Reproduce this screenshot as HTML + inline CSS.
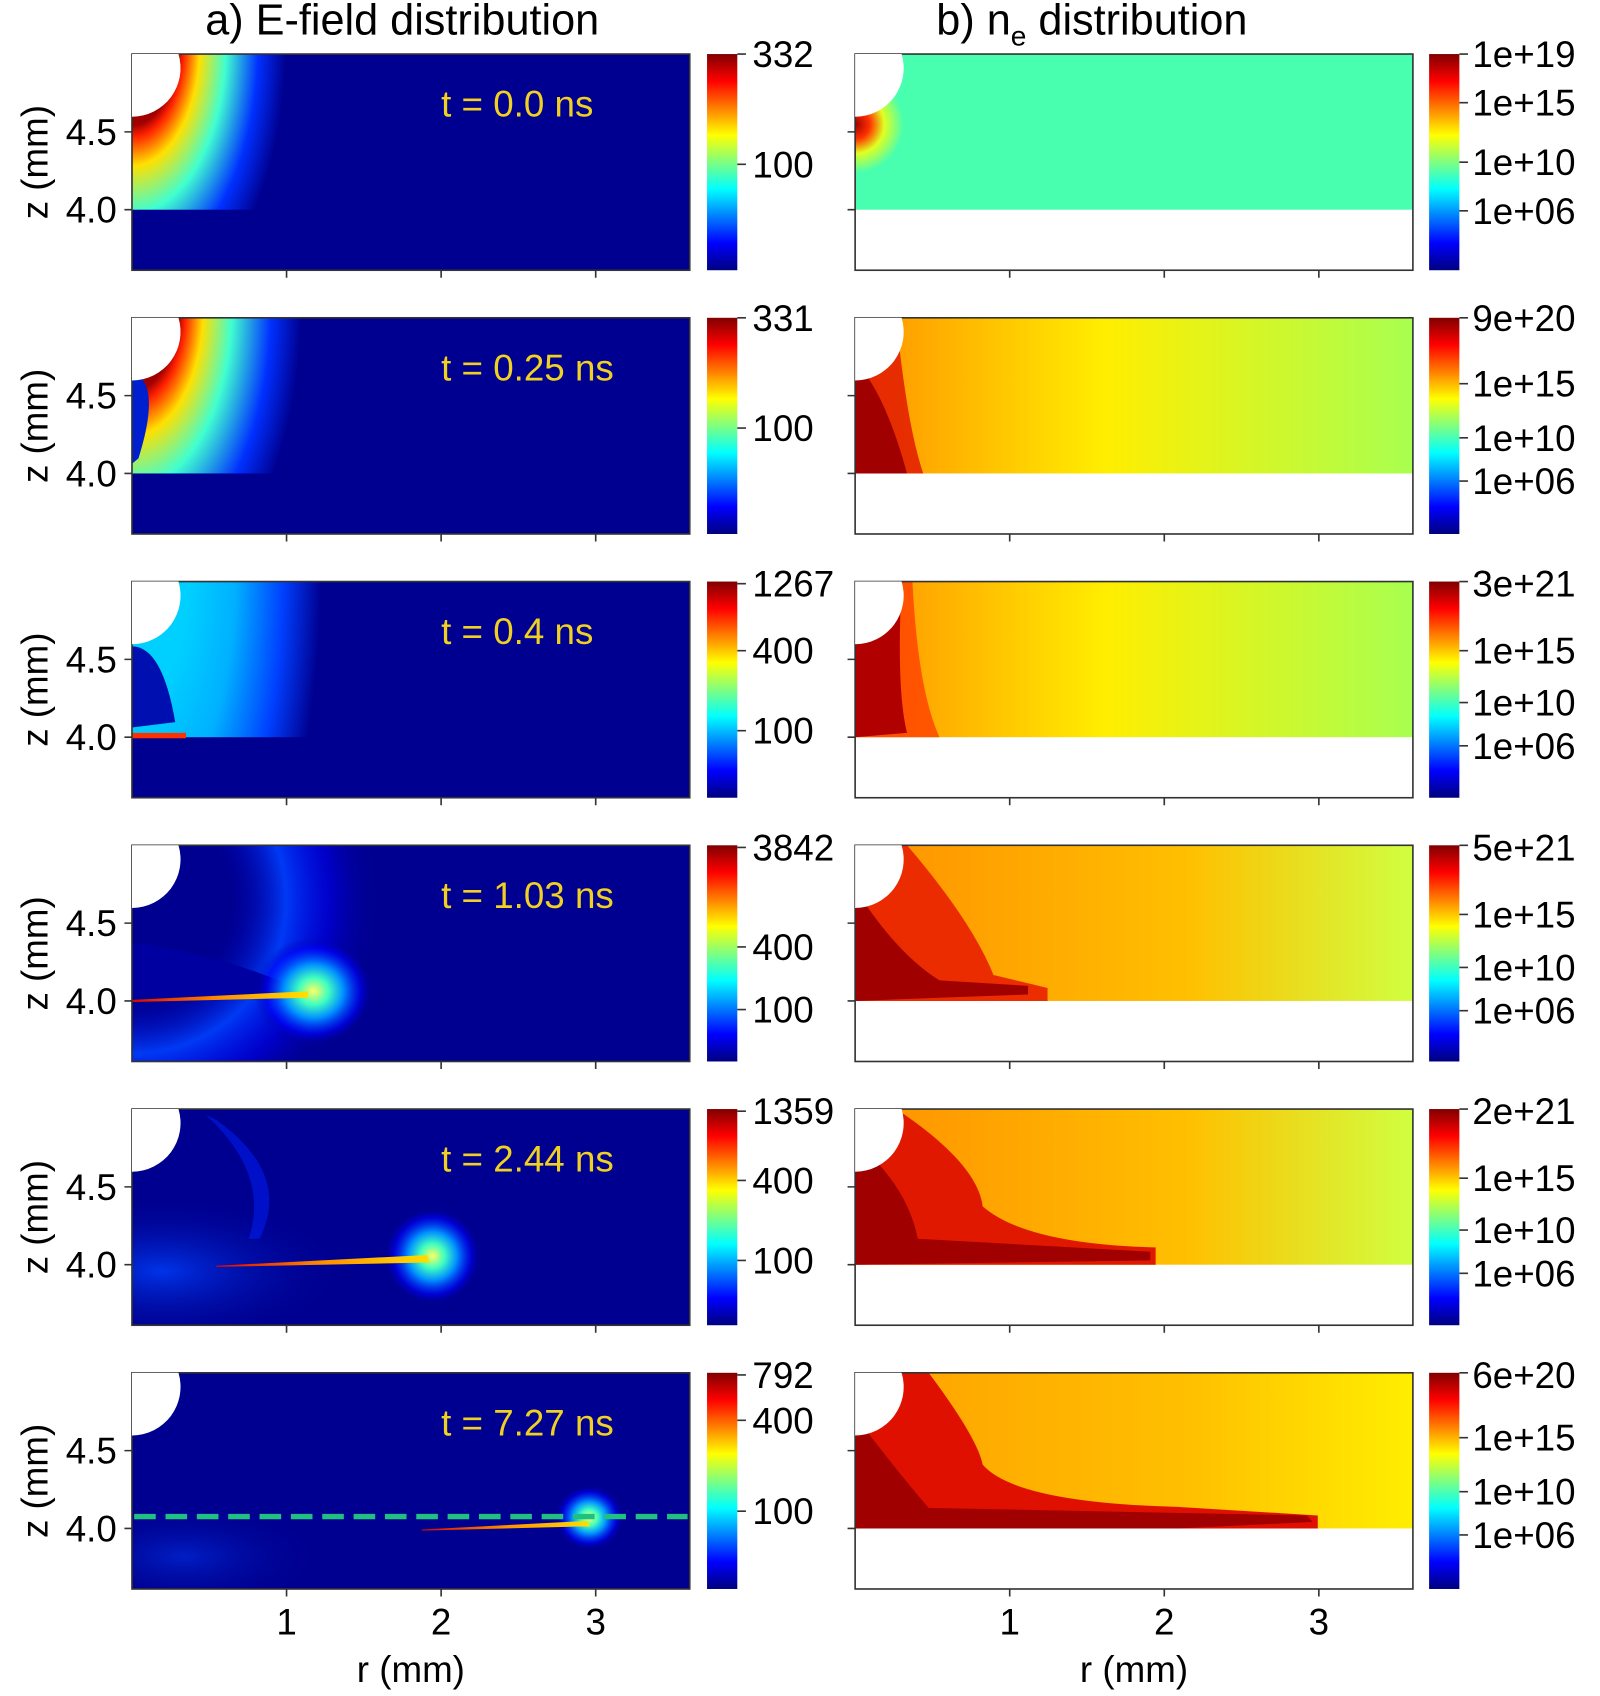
<!DOCTYPE html>
<html><head><meta charset="utf-8"><style>
html,body{margin:0;padding:0;background:#fff;width:1600px;height:1696px;overflow:hidden}
svg text{font-family:"Liberation Sans Narrow","Liberation Sans",sans-serif}
</style></head><body>
<svg width="1600" height="1696" viewBox="0 0 1480 1569" xmlns="http://www.w3.org/2000/svg">
<defs>
<clipPath id="pc"><rect x="122" y="50" width="516" height="200"/></clipPath>
<linearGradient id="jet" x1="0" y1="1" x2="0" y2="0">
<stop offset="0" stop-color="#000080"/><stop offset="0.125" stop-color="#0000ff"/><stop offset="0.375" stop-color="#00ffff"/><stop offset="0.625" stop-color="#ffff00"/><stop offset="0.875" stop-color="#ff0000"/><stop offset="1" stop-color="#800000"/>
</linearGradient>
<radialGradient id="e0" gradientUnits="userSpaceOnUse" cx="122" cy="40" r="150" gradientTransform="translate(122,40) scale(1,1.8) translate(-122,-40)">
<stop offset="0.28" stop-color="#a00000"/><stop offset="0.32" stop-color="#ff2000"/><stop offset="0.42" stop-color="#ffe000"/><stop offset="0.58" stop-color="#40ffd0"/><stop offset="0.78" stop-color="#0030ff"/><stop offset="0.95" stop-color="#000090"/>
</radialGradient>
<radialGradient id="e1" gradientUnits="userSpaceOnUse" cx="122" cy="40" r="165" gradientTransform="translate(122,40) scale(1,1.8) translate(-122,-40)">
<stop offset="0.26" stop-color="#a00000"/><stop offset="0.3" stop-color="#ff2000"/><stop offset="0.4" stop-color="#ffe000"/><stop offset="0.56" stop-color="#40ffd0"/><stop offset="0.78" stop-color="#0030ff"/><stop offset="0.95" stop-color="#000090"/>
</radialGradient>
<radialGradient id="e2" gradientUnits="userSpaceOnUse" cx="122" cy="40" r="175" gradientTransform="translate(122,40) scale(1,2.4) translate(-122,-40)">
<stop offset="0.3" stop-color="#00d0ff"/><stop offset="0.55" stop-color="#00b0ff"/><stop offset="0.8" stop-color="#0040ff"/><stop offset="1" stop-color="#000090"/>
</radialGradient>
<radialGradient id="halo" gradientUnits="userSpaceOnUse" cx="122" cy="100" r="230">
<stop offset="0.4" stop-color="#0000c0" stop-opacity="0"/><stop offset="0.62" stop-color="#0040ff" stop-opacity="0.9"/><stop offset="0.8" stop-color="#0000ff" stop-opacity="0.5"/><stop offset="1" stop-color="#000090" stop-opacity="0"/>
</radialGradient>
<radialGradient id="low"><stop offset="0" stop-color="#0040ff" stop-opacity="0.8"/><stop offset="1" stop-color="#000090" stop-opacity="0"/></radialGradient>
<radialGradient id="blob">
<stop offset="0" stop-color="#ffff60"/><stop offset="0.25" stop-color="#40ffc0"/><stop offset="0.5" stop-color="#0090ff"/><stop offset="0.8" stop-color="#0000ff" stop-opacity="0.6"/><stop offset="1" stop-color="#000090" stop-opacity="0"/>
</radialGradient>
<linearGradient id="streak" x1="0" x2="1" y1="0" y2="0">
<stop offset="0" stop-color="#e00000"/><stop offset="0.5" stop-color="#ff9000"/><stop offset="1" stop-color="#ffe000"/>
</linearGradient>
<linearGradient id="n1" x1="0" x2="1"><stop offset="0" stop-color="#ff9000"/><stop offset="0.45" stop-color="#ffee00"/><stop offset="1" stop-color="#a8ff50"/></linearGradient>
<linearGradient id="n4" x1="0" x2="1"><stop offset="0" stop-color="#ff9000"/><stop offset="0.6" stop-color="#ffc000"/><stop offset="1" stop-color="#d0ff40"/></linearGradient>
<linearGradient id="n5" x1="0" x2="1"><stop offset="0" stop-color="#ffa000"/><stop offset="0.6" stop-color="#ffc000"/><stop offset="1" stop-color="#ffee00"/></linearGradient>
<radialGradient id="n0" gradientUnits="userSpaceOnUse" cx="122" cy="115" r="45">
<stop offset="0" stop-color="#a00000"/><stop offset="0.3" stop-color="#ff3000"/><stop offset="0.6" stop-color="#e0ff20"/><stop offset="1" stop-color="#48ffb0"/>
</radialGradient>
</defs>

<text x="372" y="32" font-size="40" text-anchor="middle">a) E-field distribution</text>
<text x="1010" y="32" font-size="40" text-anchor="middle">b) n<tspan font-size="26" dy="10">e</tspan><tspan dy="-10"> distribution</tspan></text>

<g clip-path="url(#pc)">
<rect x="122" y="50" width="516" height="200" fill="#000090"/>
<rect x="122" y="50" width="150" height="144" fill="url(#e0)"/>
</g>
<g transform="translate(0,244)"><g clip-path="url(#pc)">
<rect x="122" y="50" width="516" height="200" fill="#000090"/>
<rect x="122" y="50" width="165" height="144" fill="url(#e1)"/>
<path d="M122,100 Q150,110 128,180 L122,185 Z" fill="#0020d0"/>
</g></g>
<g transform="translate(0,488)"><g clip-path="url(#pc)">
<rect x="122" y="50" width="516" height="200" fill="#000090"/>
<rect x="122" y="50" width="175" height="144" fill="url(#e2)"/>
<path d="M122,110 Q150,110 162,180 L122,185 Z" fill="#0010b0"/>
<rect x="122" y="190" width="50" height="5" fill="#ff3000"/>
</g></g>
<g transform="translate(0,732)"><g clip-path="url(#pc)">
<rect x="122" y="50" width="516" height="200" fill="#000090"/>
<rect x="122" y="50" width="260" height="200" fill="url(#halo)"/>
<path d="M122,140 Q200,150 270,180 L280,190 L122,190 Z" fill="#0000a0"/>
<ellipse cx="290" cy="185" rx="55" ry="50" fill="url(#blob)"/>
<path d="M122,193 L285,185 L285,191 L122,195 Z" fill="url(#streak)"/>
</g></g>
<g transform="translate(0,976)"><g clip-path="url(#pc)">
<rect x="122" y="50" width="516" height="200" fill="#000090"/>
<ellipse cx="150" cy="200" rx="170" ry="70" fill="url(#low)"/>
<path d="M200,60 Q270,110 240,170 L230,170 Q250,110 190,55 Z" fill="#0020ff" opacity="0.5"/>
<ellipse cx="400" cy="186" rx="45" ry="45" fill="url(#blob)"/>
<path d="M200,195 L395,185 L398,192 L200,196 Z" fill="url(#streak)"/>
</g></g>
<g transform="translate(0,1220)"><g clip-path="url(#pc)">
<rect x="122" y="50" width="516" height="200" fill="#000090"/>
<ellipse cx="170" cy="220" rx="130" ry="50" fill="url(#low)" opacity="0.6"/>
<ellipse cx="545" cy="184" rx="32" ry="30" fill="url(#blob)"/>
<path d="M390,195 L543,187 L546,192 L390,196 Z" fill="url(#streak)"/>
<line x1="124" y1="183" x2="636" y2="183" stroke="#20c080" stroke-width="5" stroke-dasharray="20,9"/>
</g></g>

<g transform="translate(669,0)">
<rect x="122" y="50" width="516" height="144" fill="#48ffb0"/>
<rect x="122" y="60" width="50" height="110" fill="url(#n0)"/>
</g>
<g transform="translate(669,244)">
<rect x="122" y="50" width="516" height="144" fill="url(#n1)"/>
<path d="M122,50 L160,50 Q170,150 185,194 L122,194 Z" fill="#e01000" opacity="0.8"/>
<path d="M122,90 Q150,120 170,194 L122,194 Z" fill="#a00000"/>
</g>
<g transform="translate(669,488)">
<rect x="122" y="50" width="516" height="144" fill="url(#n1)"/>
<path d="M122,50 L175,50 Q180,150 200,194 L122,194 Z" fill="#ff3000" opacity="0.7"/>
<path d="M122,50 L165,50 Q160,150 170,190 L122,194 Z" fill="#b00000"/>
</g>
<g transform="translate(669,732)">
<rect x="122" y="50" width="516" height="144" fill="url(#n4)"/>
<path d="M122,50 L170,50 Q230,120 250,170 L300,182 L300,194 L122,194 Z" fill="#e81800" opacity="0.85"/>
<path d="M122,90 Q160,150 200,175 L282,180 L282,188 L122,194 Z" fill="#a00000"/>
</g>
<g transform="translate(669,976)">
<rect x="122" y="50" width="516" height="144" fill="url(#n4)"/>
<path d="M122,50 L160,50 Q235,100 240,140 Q280,175 400,178 L400,194 L122,194 Z" fill="#e01800"/>
<path d="M122,80 Q170,120 180,170 L395,182 L395,190 L122,194 Z" fill="#a00000"/>
</g>
<g transform="translate(669,1220)">
<rect x="122" y="50" width="516" height="144" fill="url(#n5)"/>
<path d="M122,50 L190,50 Q235,110 240,135 Q270,170 420,174 L550,182 L550,194 L122,194 Z" fill="#e01000"/>
<path d="M122,90 Q160,140 190,175 L540,182 L545,188 L420,194 L122,194 Z" fill="#a00000"/>
</g>

<g fill="none" stroke="#333" stroke-width="1.5">
<rect x="122" y="50" width="516" height="200"/><rect x="791" y="50" width="516" height="200"/>
<rect x="122" y="294" width="516" height="200"/><rect x="791" y="294" width="516" height="200"/>
<rect x="122" y="538" width="516" height="200"/><rect x="791" y="538" width="516" height="200"/>
<rect x="122" y="782" width="516" height="200"/><rect x="791" y="782" width="516" height="200"/>
<rect x="122" y="1026" width="516" height="200"/><rect x="791" y="1026" width="516" height="200"/>
<rect x="122" y="1270" width="516" height="200"/><rect x="791" y="1270" width="516" height="200"/>
</g>
<g fill="#fff">
<path d="M122,50 L165,50 A45,45 0 0 1 122,108 Z"/><path d="M791,50 L834,50 A45,45 0 0 1 791,108 Z"/>
<path d="M122,294 L165,294 A45,45 0 0 1 122,352 Z"/><path d="M791,294 L834,294 A45,45 0 0 1 791,352 Z"/>
<path d="M122,538 L165,538 A45,45 0 0 1 122,596 Z"/><path d="M791,538 L834,538 A45,45 0 0 1 791,596 Z"/>
<path d="M122,782 L165,782 A45,45 0 0 1 122,840 Z"/><path d="M791,782 L834,782 A45,45 0 0 1 791,840 Z"/>
<path d="M122,1026 L165,1026 A45,45 0 0 1 122,1084 Z"/><path d="M791,1026 L834,1026 A45,45 0 0 1 791,1084 Z"/>
<path d="M122,1270 L165,1270 A45,45 0 0 1 122,1328 Z"/><path d="M791,1270 L834,1270 A45,45 0 0 1 791,1328 Z"/>
</g>
<g stroke="#333" stroke-width="1.5">
<path d="M265,250v7M408,250v7M551,250v7M934,250v7M1077,250v7M1220,250v7 M265,494v7M408,494v7M551,494v7M934,494v7M1077,494v7M1220,494v7 M265,738v7M408,738v7M551,738v7M934,738v7M1077,738v7M1220,738v7 M265,982v7M408,982v7M551,982v7M934,982v7M1077,982v7M1220,982v7 M265,1226v7M408,1226v7M551,1226v7M934,1226v7M1077,1226v7M1220,1226v7 M265,1470v7M408,1470v7M551,1470v7M934,1470v7M1077,1470v7M1220,1470v7"/>
<path d="M115,122h7M115,194h7M784,122h7M784,194h7 M115,366h7M115,438h7M784,366h7M784,438h7 M115,610h7M115,682h7M784,610h7M784,682h7 M115,854h7M115,926h7M784,854h7M784,926h7 M115,1098h7M115,1170h7M784,1098h7M784,1170h7 M115,1342h7M115,1414h7M784,1342h7M784,1414h7"/>
</g>
<g fill="url(#jet)">
<rect x="654" y="50" width="28" height="200"/><rect x="1322" y="50" width="28" height="200"/>
<rect x="654" y="294" width="28" height="200"/><rect x="1322" y="294" width="28" height="200"/>
<rect x="654" y="538" width="28" height="200"/><rect x="1322" y="538" width="28" height="200"/>
<rect x="654" y="782" width="28" height="200"/><rect x="1322" y="782" width="28" height="200"/>
<rect x="654" y="1026" width="28" height="200"/><rect x="1322" y="1026" width="28" height="200"/>
<rect x="654" y="1270" width="28" height="200"/><rect x="1322" y="1270" width="28" height="200"/>
</g>

<g font-size="34" text-anchor="end">
<text x="108" y="134">4.5</text><text x="108" y="206">4.0</text>
<text x="108" y="378">4.5</text><text x="108" y="450">4.0</text>
<text x="108" y="622">4.5</text><text x="108" y="694">4.0</text>
<text x="108" y="866">4.5</text><text x="108" y="938">4.0</text>
<text x="108" y="1110">4.5</text><text x="108" y="1182">4.0</text>
<text x="108" y="1354">4.5</text><text x="108" y="1426">4.0</text>
</g>
<g font-size="34" text-anchor="middle">
<text transform="translate(44,150) rotate(-90)">z (mm)</text>
<text transform="translate(44,394) rotate(-90)">z (mm)</text>
<text transform="translate(44,638) rotate(-90)">z (mm)</text>
<text transform="translate(44,882) rotate(-90)">z (mm)</text>
<text transform="translate(44,1126) rotate(-90)">z (mm)</text>
<text transform="translate(44,1370) rotate(-90)">z (mm)</text>
<text x="265" y="1512">1</text><text x="408" y="1512">2</text><text x="551" y="1512">3</text>
<text x="934" y="1512">1</text><text x="1077" y="1512">2</text><text x="1220" y="1512">3</text>
<text x="380" y="1556">r (mm)</text><text x="1049" y="1556">r (mm)</text>
</g>

<g font-size="34" fill="#f0d020">
<text x="408" y="108">t = 0.0 ns</text>
<text x="408" y="352">t = 0.25 ns</text>
<text x="408" y="596">t = 0.4 ns</text>
<text x="408" y="840">t = 1.03 ns</text>
<text x="408" y="1084">t = 2.44 ns</text>
<text x="408" y="1328">t = 7.27 ns</text>
</g>

<g font-size="34">
<text x="696" y="62">332</text><text x="696" y="164">100</text>
<text x="696" y="306">331</text><text x="696" y="408">100</text>
<text x="696" y="552">1267</text><text x="696" y="614">400</text><text x="696" y="688">100</text>
<text x="696" y="796">3842</text><text x="696" y="888">400</text><text x="696" y="946">100</text>
<text x="696" y="1040">1359</text><text x="696" y="1104">400</text><text x="696" y="1178">100</text>
<text x="696" y="1284">792</text><text x="696" y="1326">400</text><text x="696" y="1410">100</text>
</g>
<g stroke="#333" stroke-width="1.5">
<path d="M682,50h8M682,152h8M682,294h8M682,396h8M682,540h8M682,602h8M682,676h8M682,784h8M682,876h8M682,934h8M682,1028h8M682,1092h8M682,1166h8M682,1272h8M682,1314h8M682,1398h8"/>
<path d="M1350,50h8M1350,95h8M1350,150h8M1350,195h8 M1350,294h8M1350,355h8M1350,405h8M1350,445h8 M1350,538h8M1350,602h8M1350,650h8M1350,690h8 M1350,782h8M1350,846h8M1350,895h8M1350,935h8 M1350,1026h8M1350,1090h8M1350,1138h8M1350,1178h8 M1350,1270h8M1350,1330h8M1350,1380h8M1350,1420h8"/>
</g>
<g font-size="34">
<text x="1362" y="62">1e+19</text><text x="1362" y="107">1e+15</text><text x="1362" y="162">1e+10</text><text x="1362" y="207">1e+06</text>
<text x="1362" y="306">9e+20</text><text x="1362" y="367">1e+15</text><text x="1362" y="417">1e+10</text><text x="1362" y="457">1e+06</text>
<text x="1362" y="552">3e+21</text><text x="1362" y="614">1e+15</text><text x="1362" y="662">1e+10</text><text x="1362" y="702">1e+06</text>
<text x="1362" y="796">5e+21</text><text x="1362" y="858">1e+15</text><text x="1362" y="907">1e+10</text><text x="1362" y="947">1e+06</text>
<text x="1362" y="1040">2e+21</text><text x="1362" y="1102">1e+15</text><text x="1362" y="1150">1e+10</text><text x="1362" y="1190">1e+06</text>
<text x="1362" y="1284">6e+20</text><text x="1362" y="1342">1e+15</text><text x="1362" y="1392">1e+10</text><text x="1362" y="1432">1e+06</text>
</g>
</svg>
</body></html>
